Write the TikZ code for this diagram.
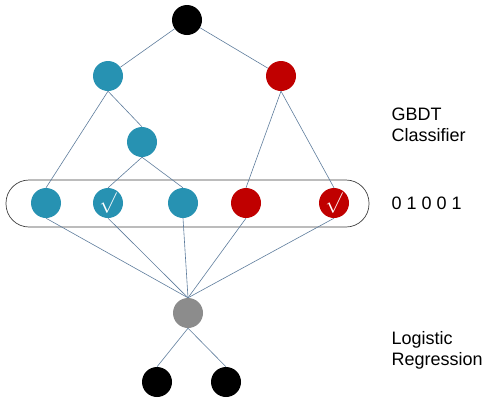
\documentclass[tikz,border=0pt]{standalone}
\usepackage{fontspec}
\setmainfont{Liberation Sans}
\usepackage{xcolor}
\definecolor{leafblue}{HTML}{2792B2}
\definecolor{leafred}{HTML}{C00000}
\definecolor{lrgray}{HTML}{8C8C8C}
\definecolor{edgeblue}{HTML}{5E7C9C}
\usepackage{tikz}

\begin{document}
\begin{tikzpicture}[x=1pt,y=-1pt,font=\fontsize{18}{21}\selectfont,
  dot/.style={circle,minimum size=30pt,inner sep=0pt},
  edge/.style={edgeblue,line width=0.6pt}]
  \useasboundingbox (0,0) rectangle (489,402);
  % leaf frame
  \draw[black!75,line width=0.7pt,rounded corners=23pt] (6,180) rectangle (369,227);
  % tree
  \node[dot,fill=black] (root) at (187,20) {};
  \node[dot,fill=leafblue] (bl) at (108,76) {};
  \node[dot,fill=leafred] (rd) at (281,76) {};
  \node[dot,fill=leafblue] (bm) at (142,142) {};
  % leaves
  \node[dot,fill=leafblue] (l1) at (46,203) {};
  \node[dot,fill=leafblue,text=white] (l2) at (108,203) {\fontsize{20}{20}\selectfont$\surd$};
  \node[dot,fill=leafblue] (l3) at (183,203) {};
  \node[dot,fill=leafred] (l4) at (246,203) {};
  \node[dot,fill=leafred,text=white] (l5) at (334,203) {\fontsize{20}{20}\selectfont$\surd$};
  % logistic regression
  \node[dot,fill=lrgray] (lr) at (188,313) {};
  \node[dot,fill=black] (o1) at (157,382) {};
  \node[dot,fill=black] (o2) at (226,382) {};
  % edges
  \draw[edge] (root) -- (bl);
  \draw[edge] (root) -- (rd);
  \draw[edge] (bl.south) -- (l1.north);
  \draw[edge] (bl.south) -- (bm.north);
  \draw[edge] (bm.south) -- (l2.north);
  \draw[edge] (bm.south) -- (l3.north);
  \draw[edge] (rd.south) -- (l4.north);
  \draw[edge] (rd.south) -- (l5.north);
  \foreach \l in {l1,l2,l3,l4,l5}
    \draw[edge] (\l.south) -- (lr.north);
  \draw[edge] (lr.south) -- (o1.north);
  \draw[edge] (lr.south) -- (o2.north);
  % labels
  \node[anchor=west,align=left] (gbdt) at (388,125) {GBDT\\Classifier};
  \node[anchor=west] (code) at (388,203) {0 1 0 0 1};
  \node[anchor=west,align=left] (logreg) at (388,350) {Logistic\\Regression};
\end{tikzpicture}
\end{document}
